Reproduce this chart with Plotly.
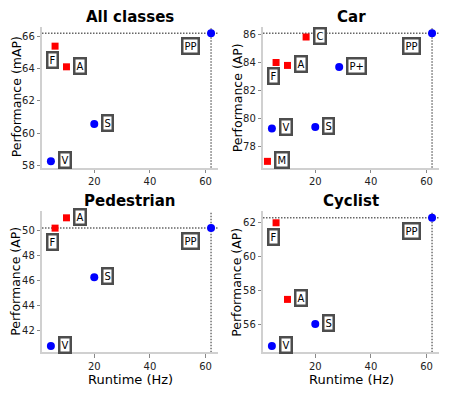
import plotly.graph_objects as go

# ---- data (BEV moderate, runtime in Hz) ----
panel_titles = ["All classes", "Car", "Pedestrian", "Cyclist"]
y_titles = ["Performance (mAP)", "Performance (AP)", "Performance (AP)", "Performance (AP)"]

all_labels = ["V", "S", "F", "A", "PP"]
all_hz = [4.4, 20, 5.9, 10, 62]
all_perf = [58.25, 60.56, 65.39, 64.11, 66.19]

car_labels = ["M", "V", "S", "F", "A", "C", "P+", "PP"]
car_hz = [2.8, 4.4, 20, 5.9, 10, 16.7, 28.6, 62]
car_perf = [76.90, 79.26, 79.37, 84.00, 83.79, 85.83, 83.68, 86.10]

ped_labels = ["V", "S", "F", "A", "PP"]
ped_hz = [4.4, 20, 5.9, 10, 62]
ped_perf = [40.74, 46.27, 50.22, 51.05, 50.23]

cyc_labels = ["V", "S", "F", "A", "PP"]
cyc_hz = [4.4, 20, 5.9, 10, 62]
cyc_perf = [54.76, 56.04, 61.96, 57.48, 62.25]

# fusion methods drawn as red squares, lidar-only as blue circles
fusion = {"M", "F", "A", "C"}

panels = [
    (all_labels, all_hz, all_perf),
    (car_labels, car_hz, car_perf),
    (ped_labels, ped_hz, ped_perf),
    (cyc_labels, cyc_hz, cyc_perf),
]

# ---- layout geometry, in page pixels (page is 452x396, body has an 8px margin) ----
OFF = 8
W, H = 452 - OFF, 396 - OFF
col_px = [(42, 218), (263, 439)]
row_px = [(27, 169), (213, 355)]


def px(x):
    return (x - OFF) / W


def py(y):
    return 1 - (y - OFF) / H


FONT = "DejaVu Sans"
fig = go.Figure()


def label_pos(lab):
    # where the boxed tag sits relative to its point
    if lab == "F":
        return dict(xanchor="center", yanchor="middle", xshift=-3, yshift=-14)
    if lab == "PP":
        return dict(xanchor="right", yanchor="middle", xshift=-11, yshift=-13)
    return dict(xanchor="left", yanchor="middle", xshift=7, yshift=1)


guide = dict(color="#666666", width=1.4, dash="1.5px,1.5px")

for i, (labels, hz, perf) in enumerate(panels):
    r, c = divmod(i, 2)
    n = i + 1
    xa = "x" if n == 1 else f"x{n}"
    ya = "y" if n == 1 else f"y{n}"
    xl = "xaxis" if n == 1 else f"xaxis{n}"
    yl = "yaxis" if n == 1 else f"yaxis{n}"

    x0, x1 = col_px[c]
    top, bot = row_px[r]

    lo, hi = min(perf), max(perf)
    pad = (hi - lo) * 0.05
    ticks = list(range(int(lo) + (int(lo) % 2), int(hi) + 1, 2))

    # dotted guide lines through PointPillars
    pp = labels.index("PP")
    fig.add_shape(type="line", xref=f"{xa} domain", yref=ya, x0=0, x1=1,
                  y0=perf[pp], y1=perf[pp], line=guide, layer="below")
    fig.add_shape(type="line", xref=xa, yref=f"{ya} domain", x0=hz[pp], x1=hz[pp],
                  y0=0, y1=1, line=guide, layer="below")

    for is_fusion, color, symbol, size in [(True, "#ff0000", "square", 7), (False, "#0000ff", "circle", 8)]:
        xs = [h for lab, h in zip(labels, hz) if (lab in fusion) == is_fusion]
        ys = [p for lab, p in zip(labels, perf) if (lab in fusion) == is_fusion]
        fig.add_trace(go.Scatter(
            x=xs, y=ys, mode="markers", xaxis=xa, yaxis=ya, cliponaxis=False,
            marker=dict(color=color, symbol=symbol, size=size, line=dict(width=0)),
            showlegend=False, hoverinfo="skip",
        ))

    for lab, h, p in zip(labels, hz, perf):
        fig.add_annotation(
            x=h, y=p, xref=xa, yref=ya, text=lab, showarrow=False,
            font=dict(family=FONT, size=10, color="black"),
            bgcolor="white", bordercolor="#4d4d4d", borderwidth=2.5, borderpad=1,
            **label_pos(lab),
        )

    axis_common = dict(
        showgrid=False, zeroline=False, showline=True, linecolor="#d0d0d0", linewidth=1.5,
        ticks="outside", ticklen=3.5, tickwidth=1, tickcolor="#888888",
        tickfont=dict(family=FONT, size=10, color="#222222"),
    )
    fig.update_layout(**{
        xl: dict(domain=[px(x0), px(x1)], range=[1.2, 64.5], tickvals=[20, 40, 60],
                 anchor=ya, **axis_common),
        yl: dict(domain=[py(bot), py(top)], range=[lo - pad, hi + pad], tickvals=ticks,
                 anchor=xa, **axis_common),
    })

    cx = px((x0 + x1) / 2)
    # panel title
    fig.add_annotation(text=f"<b>{panel_titles[i]}</b>", xref="paper", yref="paper",
                       x=cx, y=py(top - 10), xanchor="center", yanchor="middle",
                       showarrow=False, font=dict(family=FONT, size=15, color="black"))
    # y title
    fig.add_annotation(text=y_titles[i], xref="paper", yref="paper", textangle=-90,
                       x=px(x0 - 26), y=py((top + bot) / 2), xanchor="center", yanchor="middle",
                       showarrow=False, font=dict(family=FONT, size=12.5, color="black"))
    # x title only on bottom row
    if r == 1:
        fig.add_annotation(text="Runtime (Hz)", xref="paper", yref="paper",
                           x=cx, y=py(bot + 27), xanchor="center", yanchor="middle",
                           showarrow=False, font=dict(family=FONT, size=13, color="black"))

fig.update_layout(
    width=W, height=H, margin=dict(l=0, r=0, t=0, b=0),
    paper_bgcolor="white", plot_bgcolor="white",
)

fig.write_html("out.html")
